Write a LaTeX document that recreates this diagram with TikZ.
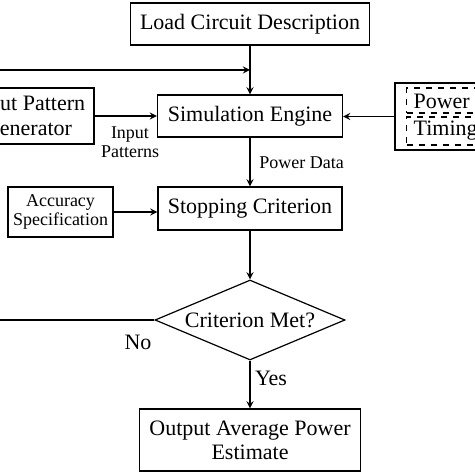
\documentclass[tikz,border=0pt]{standalone}
\usepackage{fontspec}
\setmainfont{Liberation Serif}
\usetikzlibrary{calc}
\usetikzlibrary{positioning}
\usetikzlibrary{shapes.geometric}

\begin{document}
\begin{tikzpicture}[x=0.5pt,y=-0.5pt,>=stealth,line width=0.6pt,
  box/.style={draw,rectangle,inner sep=0pt,align=center,font=\fontsize{11}{12}\selectfont},
  small/.style={align=center,font=\fontsize{9}{9.5}\selectfont},
  big/.style={font=\fontsize{11}{12}\selectfont},
  model/.style={draw,dashed,rectangle,anchor=west,inner xsep=3.5pt,inner ysep=0pt,text width=110pt,align=left,font=\fontsize{11}{12}\selectfont}]
\useasboundingbox (0,0) rectangle (474,474);

\node[box,minimum width=119.5pt,minimum height=21pt] (load) at (250,24) {Load Circuit Description};
\node[box,minimum width=66pt,minimum height=28pt,font=\fontsize{11}{12.5}\selectfont] (ipg) at (28,116) {Input Pattern\\Generator};
\node[box,minimum width=92.5pt,minimum height=21pt] (sim) at (250,116) {Simulation Engine};

\node[box,minimum width=130pt,minimum height=33.5pt] (models) at (525,116.5) {};
\node[model,minimum height=12.5pt] (pmod) at (406,100.5) {Power Models};
\node[model,minimum height=14pt] (tmod) at (406,131) {Timing};

\node[box,minimum width=52.5pt,minimum height=25pt,font=\fontsize{9}{9.5}\selectfont] (acc) at (60.5,212) {Accuracy\\Specification};
\node[box,minimum width=92pt,minimum height=21.5pt] (stop) at (250,208.5) {Stopping Criterion};
\node[draw,diamond,aspect=2.375,inner sep=0pt,minimum width=95pt,minimum height=40pt,big] (crit) at (250,320) {Criterion Met?};
\node[box,minimum width=110.5pt,minimum height=31pt] (out) at (250,440) {Output Average Power\\Estimate};

\node[small] (ipat) at (130,142.5) {Input\\Patterns};
\node[small,anchor=west] (pdata) at (252,163) {Power Data};
\node[big] (no) at (138,342) {No};
\node[big] (yes) at (271,378) {Yes};

\coordinate (join) at (250,70);
\coordinate (back) at (-20,70);

\draw[->] (load) -- (sim);
\draw[->] (ipg.east |- sim.west) -- (sim.west);
\draw[->] (models.west) -- (models.west -| sim.east);
\draw[->] (sim) -- (stop);
\draw[->] (acc.east) -- (acc.east -| stop.west);
\draw[->] (stop) -- (crit);
\draw[->] (crit) -- (out);
\draw[->] (crit.west) -| (back) -- (join);
\end{tikzpicture}
\end{document}
